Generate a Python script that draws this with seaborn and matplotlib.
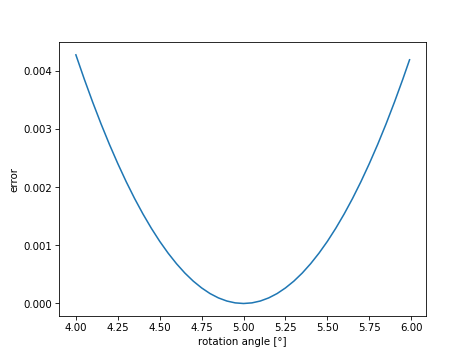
import matplotlib
matplotlib.use("Agg")
import matplotlib.pyplot as plt
import seaborn as sns
import pandas as pd

angle = [4.00, 4.05, 4.10, 4.15, 4.20, 4.25, 4.30, 4.35, 4.40, 4.45,
         4.50, 4.55, 4.60, 4.65, 4.70, 4.75, 4.80, 4.85, 4.90, 4.95,
         5.00, 5.05, 5.10, 5.15, 5.20, 5.25, 5.30, 5.35, 5.40, 5.45,
         5.50, 5.55, 5.60, 5.65, 5.70, 5.75, 5.80, 5.85, 5.90, 5.95, 5.99]
error = [0.004280, 0.003863, 0.003467, 0.003092, 0.002739, 0.002408, 0.002097, 0.001808,
         0.001541, 0.001295, 0.001070, 0.000867, 0.000685, 0.000524, 0.000385, 0.000268,
         0.000171, 0.0000963, 0.0000428, 0.0000107, 0.0,
         0.0000107, 0.0000428, 0.0000963, 0.000171, 0.000268, 0.000385, 0.000524, 0.000685,
         0.000867, 0.001070, 0.001295, 0.001541, 0.001808, 0.002097, 0.002408, 0.002739,
         0.003092, 0.003467, 0.003863, 0.004195]

df = pd.DataFrame({"rotation angle [°]": angle, "error": error})

fig, ax = plt.subplots(figsize=(6.4, 4.8), dpi=74)
sns.lineplot(data=df, x="rotation angle [°]", y="error", ax=ax, color="#1f77b4", linewidth=1.5)
ax.set_xlabel("rotation angle [°]")
ax.set_ylabel("error")
fig.savefig("out.png", dpi=74)
